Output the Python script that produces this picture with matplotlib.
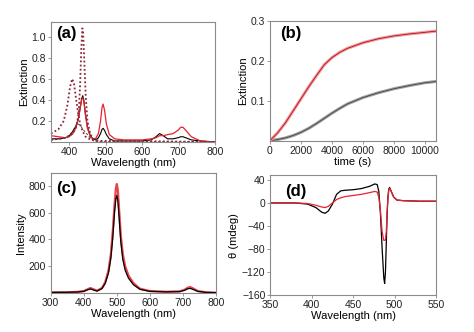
import matplotlib
matplotlib.use("Agg")
import matplotlib.pyplot as plt

plt.rcParams['font.family'] = ['Liberation Sans', 'DejaVu Sans']

# (a) extinction spectra
a_wl = [350, 370, 390, 400, 410, 418, 425, 430, 434, 437, 440, 444, 450, 458, 465, 472, 480, 486, 490, 493,
        497, 502, 510, 525, 550, 600, 625, 638, 648, 658, 670, 685, 698, 706, 712, 720, 735, 760, 800]
a_black = [0.03, 0.03, 0.04, 0.06, 0.10, 0.15, 0.22, 0.32, 0.41, 0.44, 0.40, 0.28, 0.14, 0.06, 0.03, 0.02, 0.04, 0.08, 0.12, 0.13,
           0.11, 0.07, 0.03, 0.01, 0.01, 0.01, 0.02, 0.05, 0.08, 0.06, 0.03, 0.03, 0.04, 0.05, 0.05, 0.04, 0.02, 0.01, 0.0]
a_red = [0.06, 0.05, 0.04, 0.05, 0.08, 0.13, 0.22, 0.32, 0.40, 0.42, 0.39, 0.27, 0.13, 0.05, 0.03, 0.03, 0.08, 0.20, 0.33, 0.36,
         0.30, 0.17, 0.07, 0.03, 0.02, 0.02, 0.03, 0.04, 0.06, 0.06, 0.07, 0.08, 0.11, 0.14, 0.14, 0.11, 0.05, 0.01, 0.0]
# dotted: Soret band at 410 and at 437
a_dot1_wl = [350, 370, 385, 395, 402, 408, 413, 418, 424, 430, 437, 445, 455, 470, 500, 800]
a_dot1 = [0.08, 0.12, 0.20, 0.35, 0.52, 0.60, 0.56, 0.43, 0.28, 0.17, 0.10, 0.05, 0.03, 0.01, 0.0, 0.0]
a_dot2_wl = [350, 390, 410, 420, 426, 430, 433, 436, 438, 441, 445, 450, 458, 470, 490, 550, 800]
a_dot2 = [0.02, 0.04, 0.08, 0.15, 0.28, 0.55, 0.88, 1.08, 1.05, 0.80, 0.45, 0.20, 0.07, 0.02, 0.01, 0.01, 0.0]
a_dash_wl = [350, 380, 400, 412, 420, 426, 432, 440, 450, 460, 470, 490, 800]
a_dash = [0.02, 0.03, 0.06, 0.12, 0.16, 0.17, 0.15, 0.11, 0.07, 0.03, 0.01, 0.0, 0.0]

# (b) kinetics
b_t = [0, 500, 1000, 1500, 2000, 2500, 3000, 3500, 4000, 4500, 5000, 6000, 7000, 8000, 9000, 10000, 10700]
b_red = [0.0, 0.02, 0.045, 0.075, 0.105, 0.135, 0.163, 0.19, 0.208, 0.221, 0.231, 0.245, 0.255, 0.262, 0.267, 0.271, 0.274]
b_black = [0.0, 0.003, 0.007, 0.013, 0.021, 0.031, 0.043, 0.056, 0.069, 0.081, 0.092, 0.108, 0.12, 0.13, 0.138, 0.145, 0.148]

# (c) emission
c_wl = [300, 350, 380, 400, 412, 420, 430, 440, 455, 465, 475, 482, 488, 493, 497, 500, 503, 507, 512, 518, 525,
        535, 550, 570, 600, 650, 690, 705, 715, 722, 730, 745, 770, 800]
c_black = [2, 3, 5, 10, 22, 28, 20, 12, 30, 70, 150, 260, 420, 600, 700, 730, 690, 560, 380, 250, 170,
           110, 60, 25, 10, 6, 8, 18, 30, 32, 25, 10, 2, 0]
c_red = [2, 3, 6, 12, 26, 35, 25, 15, 35, 80, 170, 290, 470, 660, 780, 815, 770, 620, 430, 290, 200,
         130, 72, 30, 12, 7, 10, 22, 38, 42, 33, 12, 3, 0]

# (d) circular dichroism
d_wl = [350, 380, 395, 405, 412, 416, 420, 425, 430, 435, 440, 450, 460, 470, 476, 479, 481, 483, 485, 487, 488,
        489, 490, 491, 492, 493, 494, 496, 499, 503, 510, 530, 550]
d_black = [0, 0, -2, -8, -16, -18, -14, -2, 15, 21, 22, 23, 25, 29, 33, 32, 20, -20, -80, -130, -140,
           -120, -70, -20, 10, 24, 27, 20, 10, 5, 4, 3, 3]
d_red = [0, 0, -1, -4, -7, -8, -6, 0, 6, 9, 11, 13, 15, 18, 20, 19, 10, -15, -50, -65, -65,
         -64, -50, -15, 8, 22, 26, 20, 10, 5, 4, 3, 3]

red = '#e8212e'
spine_c = '#8a8a8a'

fig = plt.figure(figsize=(4.74, 3.32), dpi=100)
ax_a = fig.add_axes([0.1076, 0.5723, 0.346, 0.3614])
ax_b = fig.add_axes([0.5696, 0.5762, 0.3502, 0.3614])
ax_c = fig.add_axes([0.107, 0.1184, 0.3487, 0.3614])
ax_d = fig.add_axes([0.5703, 0.1114, 0.3495, 0.3605])

ax_a.plot(a_wl, a_black, color='k', lw=0.8)
ax_a.plot(a_wl, a_red, color=red, lw=0.9)
ax_a.plot(a_dash_wl, a_dash, color='#333333', lw=0.6, ls=(0, (3, 2)))
ax_a.plot(a_dot1_wl, a_dot1, color='#8b2a3a', lw=1.3, ls=(0, (1, 1.3)))
ax_a.plot(a_dot2_wl, a_dot2, color='#8b2a3a', lw=1.3, ls=(0, (1, 1.3)))
ax_a.set_xlim(350, 800)
ax_a.set_ylim(0, 1.14)
ax_a.set_xticks([400, 500, 600, 700, 800])
ax_a.set_yticks([0.2, 0.4, 0.6, 0.8, 1.0])
ax_a.set_xlabel('Wavelength (nm)')
ax_a.set_ylabel('Extinction')
ax_a.text(0.03, 0.97, '(a)', transform=ax_a.transAxes, fontsize=12, fontweight='bold', va='top')

ax_b.plot(b_t, b_black, color='#a0a0a0', lw=2.2)
ax_b.plot(b_t, b_black, color='#444444', lw=0.6)
ax_b.plot(b_t, b_red, color='#f29a9a', lw=2.2)
ax_b.plot(b_t, b_red, color='#b01020', lw=0.6)
ax_b.set_xlim(0, 10700)
ax_b.set_ylim(0, 0.3)
ax_b.set_xticks([0, 2000, 4000, 6000, 8000, 10000])
ax_b.set_yticks([0.1, 0.2, 0.3])
ax_b.set_xlabel('time (s)')
ax_b.set_ylabel('Extinction')
ax_b.text(0.06, 0.96, '(b)', transform=ax_b.transAxes, fontsize=12, fontweight='bold', va='top')

ax_c.plot(c_wl, c_red, color=red, lw=1.6, alpha=0.85)
ax_c.plot(c_wl, c_black, color='k', lw=0.9)
ax_c.set_xlim(300, 800)
ax_c.set_ylim(0, 900)
ax_c.set_xticks([300, 400, 500, 600, 700, 800])
ax_c.set_yticks([200, 400, 600, 800])
ax_c.set_xlabel('Wavelength (nm)')
ax_c.set_ylabel('Intensity')
ax_c.text(0.03, 0.93, '(c)', transform=ax_c.transAxes, fontsize=12, fontweight='bold', va='top')

ax_d.plot(d_wl, d_black, color='k', lw=0.9)
ax_d.plot(d_wl, d_red, color=red, lw=0.9)
ax_d.set_xlim(350, 550)
ax_d.set_ylim(-160, 48)
ax_d.set_xticks([350, 400, 450, 500, 550])
ax_d.set_yticks([-160, -120, -80, -40, 0, 40])
ax_d.set_xlabel('Wavelength (nm)')
ax_d.set_ylabel('θ (mdeg)')
ax_d.text(0.09, 0.93, '(d)', transform=ax_d.transAxes, fontsize=12, fontweight='bold', va='top')

for ax in (ax_a, ax_b, ax_c, ax_d):
    for s in ax.spines.values():
        s.set_color(spine_c)
        s.set_linewidth(0.8)
    ax.tick_params(labelsize=7.5, length=2, width=0.6, color=spine_c, pad=1.5, colors='#222222')
    ax.xaxis.label.set_size(8)
    ax.yaxis.label.set_size(8)
    ax.xaxis.labelpad = 1
    ax.yaxis.labelpad = 2

fig.savefig('out.png', dpi=100)
